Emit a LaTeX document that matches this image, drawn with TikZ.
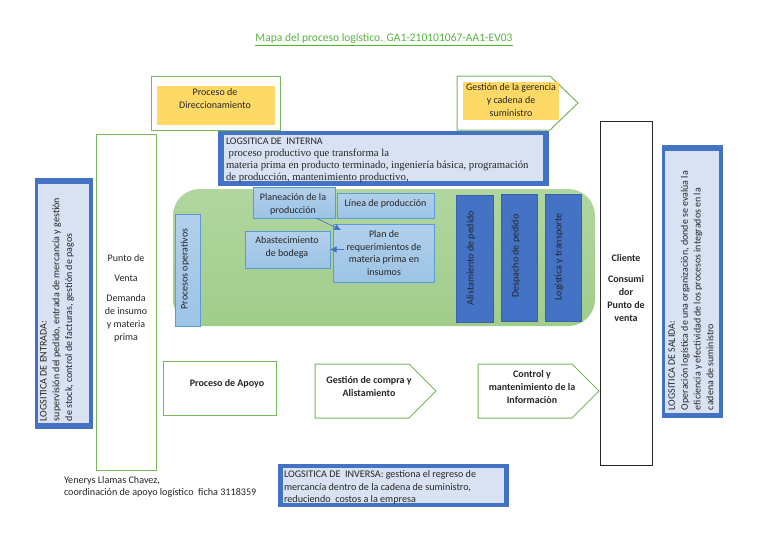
\documentclass[tikz,border=0pt]{standalone}
\usepackage{fontspec}
\setmainfont{Carlito}
\newfontfamily\serifpart{Liberation Serif}
\definecolor{grn}{HTML}{78B85A}
\definecolor{ttl}{HTML}{55B53A}
\definecolor{yel}{HTML}{FFD966}
\definecolor{frameblue}{HTML}{4472C4}
\definecolor{pale}{HTML}{D9E2F3}
\definecolor{sky}{HTML}{5B9BD5}
\definecolor{txt}{HTML}{262626}
\newcommand{\fs}{\fontsize{7.5}{9.6}\selectfont}
\newcommand{\fsw}{\fontsize{7.6}{9.2}\selectfont}
\newcommand{\fsb}{\fontsize{7.5}{9.6}\selectfont\bfseries}
\newcommand{\fser}{\serifpart\fontsize{8.05}{9}\selectfont}
\tikzset{
  every node/.style={inner sep=0pt,outer sep=0pt,text=txt,font=\fs},
  lbl/.style={align=center},
  lblL/.style={align=left},
  grnbox/.style={draw=grn,line width=0.75pt,fill=white},
  yelbox/.style={fill=yel},
  frame/.style={fill=frameblue},
  inner/.style={fill=pale},
  skybox/.style={draw=sky,line width=0.7pt,top color=sky!47,bottom color=sky!60},
  dark/.style={fill=frameblue,draw=frameblue!85!black,line width=0.5pt},
  blk/.style={draw=black!85,line width=0.75pt,fill=white},
  pent/.style={draw=grn,line width=0.75pt,fill=white,line join=miter},
  arr/.style={-{Latex[length=5pt,width=5pt]},draw=frameblue,line width=0.5pt},
}
\usetikzlibrary{arrows.meta}
\newcommand{\bx}[6]{\node[#6,minimum width={(#4-#2)*0.75pt},minimum height={(#5-#3)*0.75pt}] (#1) at ({(#2+#4)/2},{(#3+#5)/2}) {};}
\begin{document}
\begin{tikzpicture}[x=0.75pt,y=-0.75pt]
\useasboundingbox (0,0) rectangle (768,543);
\fill[white] (0,0) rectangle (768,543);

\node[lbl,text=ttl,font=\fontsize{8.64}{10}\selectfont] (title) at (384,40) {\underline{Mapa del proceso logístico. GA1-210101067-AA1-EV03}};

% direction row
\bx{dirout}{151}{76}{280}{130}{grnbox}
\bx{diryel}{157}{86}{275}{125}{yelbox}
\node[lbl] (dirtxt) at (215,98.5) {Proceso de\\Direccionamiento};
\draw[pent] (457,76) -- (550,76) -- (578,103) -- (550,130) -- (457,130) -- cycle;
\bx{geryel}{463}{82}{559}{120}{yelbox}
\node[lbl] (gertxt) at (511,100) {Gestión de la gerencia\\y cadena de\\suministro};

% interna
\bx{intout}{218}{131}{549}{186}{frame}
\bx{intin}{224}{135}{543}{181}{inner}
\node[lblL,anchor=west,font=\fontsize{7.5}{9}\selectfont] (inttxt) at (226,160.5) {LOGSITICA DE\ \ INTERNA\\{\fser\ proceso productivo que transforma la}\\{\fser materia prima en producto terminado, ingeniería básica, programación}\\{\fser de producción, mantenimiento productivo,}};

% green band
\node[rounded corners=20pt,minimum width={422*0.75pt},minimum height={137*0.75pt},top color=grn!58,bottom color=grn!70] (band) at (384,257.5) {};

\bx{plan}{253}{187}{335}{218}{skybox}
\node[lbl] (plantxt) at (293,204.5) {Planeación de la\\producción};
\bx{linea}{337}{193}{434}{218}{skybox}
\node[lbl] (lineatxt) at (385.5,204) {Línea de producción};
\bx{req}{333}{224}{434}{282}{skybox}
\node[lbl] (reqtxt) at (384,253) {Plan de\\requerimientos de\\materia prima en\\insumos};
\bx{abast}{245}{231}{330}{268}{skybox}
\node[lbl] (abasttxt) at (287,247.5) {Abastecimiento\\de bodega};
\bx{oper}{175}{214}{200}{326}{skybox}
\node[rotate=90] (opertxt) at (185,269) {Procesos operativos};
\draw[arr] ([xshift=16.5pt]plan.south) -- ([xshift=6pt,yshift=-4.5pt]req.north west);
\draw[arr] ([xshift=8pt]req.west |- abast.east) -- (abast.east);

\bx{alis}{456}{195}{493}{322}{dark}
\node[rotate=90] (alistxt) at (471,258) {Alistamiento de pedido};
\bx{desp}{501}{194}{537}{321}{dark}
\node[rotate=90] (desptxt) at (516,256) {Despacho de pedido};
\bx{logi}{545}{194}{581}{321}{dark}
\node[rotate=90] (logitxt) at (559,257) {Logística y transporte};

% client
\bx{clien}{600}{121}{652}{465}{blk}
\node[lbl,font=\fsb] (clitxt) at (626,288) {Cliente\\[6pt]Consumi\\dor\\Punto de\\venta};

% salida
\bx{salout}{662}{145}{723}{418}{frame}
\bx{salin}{665}{151}{719}{413}{inner}
\node[rotate=90,anchor=west,lblL,font=\fontsize{7.45}{9.6}\selectfont] (saltxt) at (691,410) {LOGSITICA DE SALIDA:\\Operación logística de una organización, donde se evalúa la\\eficiencia y efectividad de los procesos integrados en la\\cadena de suministro};

% entrada
\bx{entout}{35}{178}{93}{429}{frame}
\bx{entin}{38}{184}{89}{423}{inner}
\node[rotate=90,anchor=west,lblL,font=\fontsize{7.5}{9.6}\selectfont] (enttxt) at (57,421) {LOGSITICA DE ENTRADA:\\supervisión del pedido, entrada de mercancía y gestión\\de stock, control de facturas, gestión de pagos};

% punto de venta
\bx{punto}{96}{134}{156}{470}{grnbox}
\node[lbl] (puntxt) at (126,298) {Punto de\\[5.5pt]Venta\\[5.5pt]Demanda\\de insumo\\y materia\\prima};

% apoyo row
\bx{apoyo}{163}{361}{276}{415}{grnbox}
\node[font=\fsb] (apoyotxt) at (227,384) {Proceso de Apoyo};
\draw[pent] (315,364) -- (409,364) -- (436,391) -- (409,418) -- (315,418) -- cycle;
\node[lbl,font=\fsb] (comptxt) at (369,386.5) {Gestión de compra y\\Alistamiento};
\draw[pent] (478,364) -- (572,364) -- (599,391) -- (572,418) -- (478,418) -- cycle;
\node[lbl,font=\fsb] (ctrltxt) at (532,387) {Control y\\mantenimiento de la\\Informaciòn};

% author
\node[lblL,anchor=west,font=\fsw] (autor) at (64,486.5) {Yenerys Llamas Chavez,\\coordinación de apoyo logístico\ \ ficha 3118359};

% inversa
\bx{invout}{278}{464}{509}{507}{frame}
\bx{invin}{283}{468}{504}{503}{inner}
\node[lblL,anchor=west,font=\fsw] (invtxt) at (284,487.5) {LOGSITICA DE\ \ INVERSA: gestiona el regreso de\\mercancía dentro de la cadena de suministro,\\reduciendo\ \ costos a la empresa};
\end{tikzpicture}
\end{document}
